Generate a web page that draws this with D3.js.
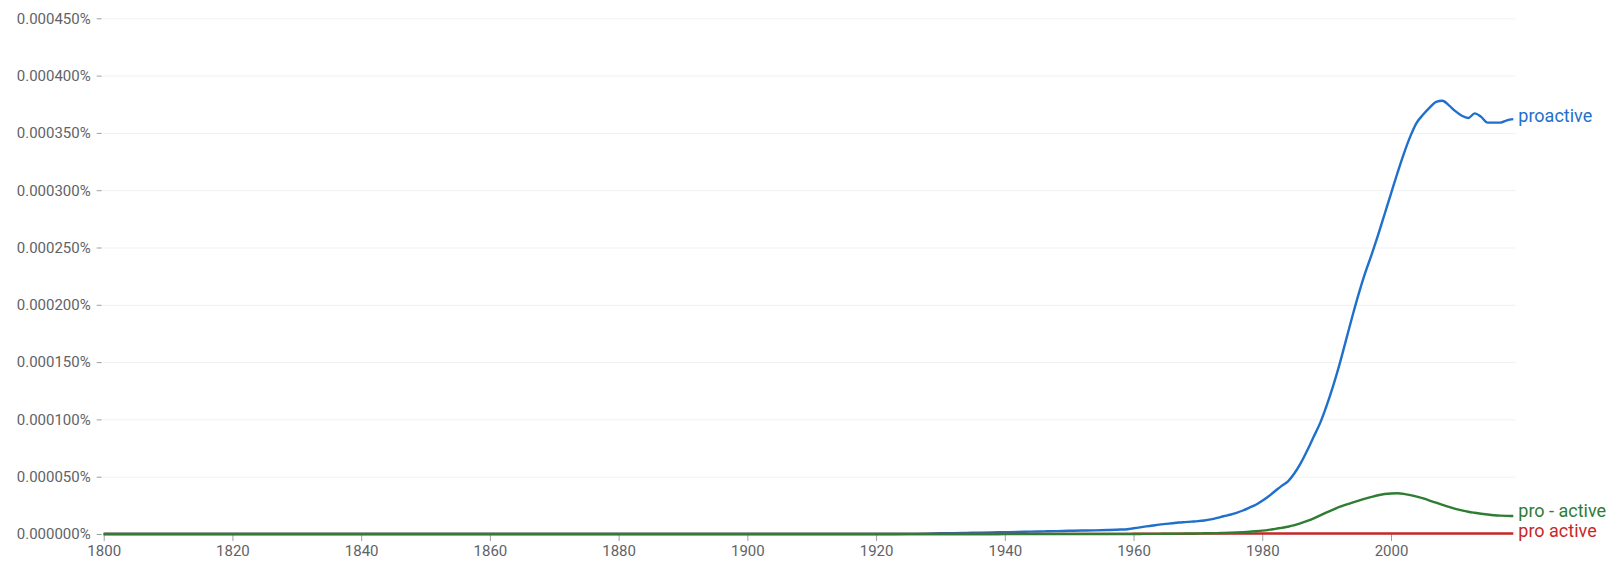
<!DOCTYPE html>
<html>
<head>
<meta charset="utf-8">
<script src="https://cdn.jsdelivr.net/npm/d3@7"></script>
<style>
  body { margin: 0; background: #fff; }
  text { font-family: Roboto, "Noto Sans", sans-serif; }
  .tick-label { fill: #5f6368; font-size: 15px; }
  .series-label { font-size: 18px; }
</style>
</head>
<body>
<div id="chart"></div>
<script>
// Years sampled from the chart (sparse before 1960, yearly after).
var years = [1800, 1820, 1840, 1860, 1880, 1900, 1910, 1920, 1925, 1928,
  1930, 1932, 1934, 1936, 1938, 1940, 1942, 1944, 1946, 1948,
  1950, 1952, 1954, 1956, 1958, 1959,
  1960, 1961, 1962, 1963, 1964, 1965, 1966, 1967, 1968, 1969,
  1970, 1971, 1972, 1973, 1974, 1975, 1976, 1977, 1978, 1979,
  1980, 1981, 1982, 1983, 1984, 1985, 1986, 1987, 1988, 1989,
  1990, 1991, 1992, 1993, 1994, 1995, 1996, 1997, 1998, 1999,
  2000, 2001, 2002, 2003, 2004, 2005, 2006, 2007, 2008, 2009,
  2010, 2011, 2012, 2013, 2014, 2015, 2016, 2017, 2018, 2019];

// Values in millionths of a percent (0.000001%), one per year above.
var proactive = [0, 0, 0, 0, 0, 0, 0, 0, 0.1, 0.3,
  0.6, 0.8, 1.0, 1.2, 1.4, 1.6, 1.8, 2.1, 2.3, 2.5,
  2.8, 3.0, 3.2, 3.5, 3.9, 4.2,
  5.0, 5.8, 6.6, 7.4, 8.2, 8.8, 9.4, 10.0, 10.4, 10.8,
  11.2, 11.8, 12.7, 14.0, 15.5, 16.8, 18.5, 20.5, 23, 25.5,
  29, 33, 37.5, 42, 46, 53, 62, 73, 85, 97,
  112, 129, 148, 169, 190, 210, 228, 244, 261, 279,
  297, 315, 332, 347, 359, 366, 372, 377, 378, 374,
  369, 365, 363, 367, 364, 359, 359, 359, 361, 362];

var proDashActive = [0, 0, 0, 0, 0, 0, 0, 0, 0, 0,
  0, 0, 0, 0, 0, 0, 0, 0, 0, 0,
  0, 0, 0, 0, 0, 0,
  0.05, 0.05, 0.1, 0.1, 0.15, 0.2, 0.25, 0.3, 0.4, 0.45,
  0.5, 0.6, 0.7, 0.8, 0.9, 1.1, 1.3, 1.6, 2.0, 2.4,
  2.9, 3.6, 4.5, 5.4, 6.3, 7.8, 9.5, 11.5, 13.7, 16.2,
  18.8, 21.3, 23.6, 25.6, 27.4, 29.2, 30.9, 32.4, 33.8, 34.9,
  35.4, 35.5, 35.0, 33.9, 32.6, 31.0, 29.2, 27.3, 25.4, 23.6,
  22.0, 20.6, 19.4, 18.5, 17.7, 17.0, 16.4, 16.0, 15.8, 15.7];

var proSpaceActive = [0, 0, 0, 0, 0, 0, 0, 0, 0, 0,
  0, 0, 0, 0, 0, 0.1, 0.1, 0.1, 0.1, 0.1,
  0.1, 0.1, 0.1, 0.1, 0.1, 0.1,
  0.2, 0.2, 0.2, 0.2, 0.2, 0.2, 0.2, 0.2, 0.2, 0.2,
  0.3, 0.3, 0.3, 0.3, 0.3, 0.3, 0.3, 0.3, 0.3, 0.4,
  0.4, 0.4, 0.4, 0.4, 0.5, 0.5, 0.5, 0.5, 0.5, 0.5,
  0.5, 0.5, 0.5, 0.5, 0.5, 0.5, 0.5, 0.5, 0.5, 0.5,
  0.5, 0.5, 0.5, 0.5, 0.5, 0.5, 0.5, 0.5, 0.5, 0.5,
  0.5, 0.5, 0.5, 0.5, 0.5, 0.4, 0.4, 0.4, 0.4, 0.4];

var xTicks = [1800, 1820, 1840, 1860, 1880, 1900, 1920, 1940, 1960, 1980, 2000];
var yTicks = [0, 50, 100, 150, 200, 250, 300, 350, 400, 450];

// Draw order matters: green sits on top of red, red on top of blue.
var series = [
  {name: "proactive", values: proactive, color: "#1f6fcc"},
  {name: "pro active", values: proSpaceActive, color: "#c62828"},
  {name: "pro - active", values: proDashActive, color: "#2e7d32"}
];

var width = 1617,
    height = 568,
    margin = {top: 18.3, right: 104, bottom: 34, left: 103.7};

var xScale = d3.scaleLinear()
      .domain([1800, 2019])
      .range([margin.left, width - margin.right + 0.3]),
    yScale = d3.scaleLinear()
      .domain([0, 450])
      .range([height - margin.bottom, margin.top]);

function fmt(v) { return (v / 1e6).toFixed(6) + "%"; }

var svg = d3.select("#chart").append("svg")
    .attr("width", width)
    .attr("height", height);

// Light horizontal grid lines.
svg.append("g")
    .attr("class", "grid")
  .selectAll("line")
    .data(yTicks)
  .enter().append("line")
    .attr("x1", xScale(1800) - 1)
    .attr("x2", xScale(2019) + 2)
    .attr("y1", function(d) { return yScale(d) + 0.5; })
    .attr("y2", function(d) { return yScale(d) + 0.5; })
    .attr("stroke", "#f1f1f1")
    .attr("stroke-width", 1);

// Y axis: short dash + label, no domain line.
var yAxis = d3.axisLeft(yScale)
    .tickValues(yTicks)
    .tickFormat(fmt)
    .tickSize(5)
    .tickPadding(6);

var yG = svg.append("g")
    .attr("transform", "translate(" + (margin.left - 2) + ",0)")
    .call(yAxis);
yG.select(".domain").remove();
yG.selectAll(".tick line").attr("stroke", "#9aa0a6");
yG.selectAll(".tick text")
    .attr("class", "tick-label")
    .attr("font-size", null)
    .attr("font-family", null);

// X axis: tick marks hanging below the baseline.
var xAxis = d3.axisBottom(xScale)
    .tickValues(xTicks)
    .tickFormat(d3.format("d"))
    .tickSize(7)
    .tickPadding(4);

var xG = svg.append("g")
    .attr("transform", "translate(0," + yScale(0) + ")")
    .call(xAxis);
xG.select(".domain").remove();
xG.selectAll(".tick line").attr("stroke", "#9aa0a6");
xG.selectAll(".tick text")
    .attr("class", "tick-label")
    .attr("font-size", null)
    .attr("font-family", null);

var line = d3.line()
    .x(function(d) { return xScale(d[0]); })
    .y(function(d) { return yScale(d[1]); })
    .curve(d3.curveMonotoneX);

svg.append("g")
    .attr("class", "lines")
  .selectAll("path")
    .data(series)
  .enter().append("path")
    .attr("fill", "none")
    .attr("stroke", function(d) { return d.color; })
    .attr("stroke-width", 2.4)
    .attr("stroke-linejoin", "round")
    .attr("d", function(d) {
      return line(years.map(function(yr, i) { return [yr, d.values[i]]; }));
    });

// End labels, nudged up so they do not collide.
var labels = series.map(function(d) {
  return {name: d.name, color: d.color, y: yScale(d.values[d.values.length - 1]) + 3};
}).sort(function(a, b) { return b.y - a.y; });
for (var i = 1; i < labels.length; i++) {
  if (labels[i - 1].y - labels[i].y < 20) labels[i].y = labels[i - 1].y - 20;
}

svg.append("g")
    .attr("class", "labels")
  .selectAll("text")
    .data(labels)
  .enter().append("text")
    .attr("class", "series-label")
    .attr("x", xScale(2019) + 5)
    .attr("y", function(d) { return d.y; })
    .attr("fill", function(d) { return d.color; })
    .text(function(d) { return d.name; });
</script>
</body>
</html>
